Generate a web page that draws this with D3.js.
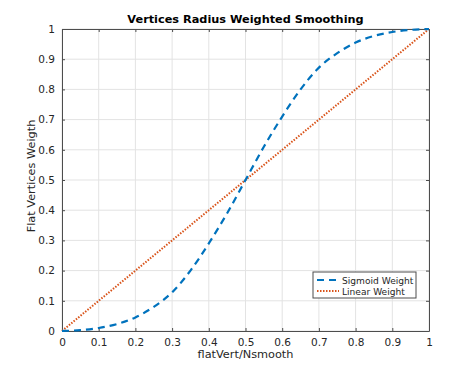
<!DOCTYPE html>
<html>
<head>
<meta charset="utf-8">
<script src="https://cdn.jsdelivr.net/npm/d3@7"></script>
<style>
  body { margin: 0; background: #fff; }
  svg text { font-family: "DejaVu Sans", sans-serif; fill: #262626; }
</style>
</head>
<body>
<div id="chart"></div>
<script>
// Values
var xValues = [0, 0.05, 0.1, 0.15, 0.2, 0.25, 0.3, 0.35, 0.4, 0.45, 0.5,
               0.55, 0.6, 0.65, 0.7, 0.75, 0.8, 0.85, 0.9, 0.95, 1];
var sigmoidWeight = [0, 0.003, 0.01, 0.023, 0.045, 0.08, 0.128, 0.2, 0.29, 0.39, 0.5,
                     0.61, 0.71, 0.8, 0.872, 0.92, 0.955, 0.977, 0.99, 0.997, 1];
var linearX = [0, 1];
var linearWeight = [0, 1];
var tickValues = [0, 0.1, 0.2, 0.3, 0.4, 0.5, 0.6, 0.7, 0.8, 0.9, 1];
var seriesNames = ["Sigmoid Weight", "Linear Weight"];

var svgWidth = 474;
var svgHeight = 372;
var margin = { top: 29, right: 45, bottom: 41, left: 62 };
var width = svgWidth - margin.left - margin.right;
var height = svgHeight - margin.top - margin.bottom;

var svg = d3.select("#chart")
    .append("svg")
    .attr("width", svgWidth)
    .attr("height", svgHeight);

var plot = svg.append("g")
    .attr("transform", `translate(${margin.left}, ${margin.top})`);

var x = d3.scaleLinear().domain([0, 1]).range([0, width]);
var y = d3.scaleLinear().domain([0, 1]).range([height, 0]);

// grid
plot.append("g")
    .selectAll("line.gx")
    .data(tickValues)
    .enter().append("line")
    .attr("x1", d => x(d)).attr("x2", d => x(d))
    .attr("y1", 0).attr("y2", height)
    .attr("stroke", "#e3e3e3").attr("stroke-width", 1);
plot.append("g")
    .selectAll("line.gy")
    .data(tickValues)
    .enter().append("line")
    .attr("y1", d => y(d)).attr("y2", d => y(d))
    .attr("x1", 0).attr("x2", width)
    .attr("stroke", "#e3e3e3").attr("stroke-width", 1);

// axes (ticks inward, box on)
var fmt = d3.format("~g");
function styleAxis(g) {
    g.select(".domain").attr("stroke", "#4d4d4d");
    g.selectAll(".tick line").attr("stroke", "#4d4d4d");
    g.selectAll(".tick text").attr("font-size", "10.5px").attr("fill", "#262626");
}
plot.append("g")
    .attr("transform", `translate(0, ${height})`)
    .call(d3.axisBottom(x).tickValues(tickValues).tickFormat(fmt).tickSizeInner(-3).tickSizeOuter(0).tickPadding(8))
    .call(styleAxis);
plot.append("g")
    .call(d3.axisLeft(y).tickValues(tickValues).tickFormat(fmt).tickSizeInner(-3).tickSizeOuter(0).tickPadding(7))
    .call(styleAxis);
plot.append("g")
    .call(d3.axisTop(x).tickValues(tickValues).tickFormat("").tickSizeInner(-3).tickSizeOuter(0))
    .call(styleAxis);
plot.append("g")
    .attr("transform", `translate(${width}, 0)`)
    .call(d3.axisRight(y).tickValues(tickValues).tickFormat("").tickSizeInner(-3).tickSizeOuter(0))
    .call(styleAxis);

// lines
var sigData = xValues.map((v, i) => [v, sigmoidWeight[i]]);
var linData = linearX.map((v, i) => [v, linearWeight[i]]);
var line = d3.line().x(d => x(d[0])).y(d => y(d[1])).curve(d3.curveMonotoneX);

plot.append("path")
    .datum(linData)
    .attr("d", line)
    .attr("fill", "none")
    .attr("stroke", "#D95319")
    .attr("stroke-width", 2)
    .attr("stroke-dasharray", "1.5,1.5");

plot.append("path")
    .datum(sigData)
    .attr("d", line)
    .attr("fill", "none")
    .attr("stroke", "#0072BD")
    .attr("stroke-width", 2.2)
    .attr("stroke-dasharray", "7,5");

// labels
svg.append("text")
    .attr("x", margin.left + width / 2)
    .attr("y", 23)
    .attr("text-anchor", "middle")
    .attr("font-size", "11.3px")
    .attr("font-weight", "bold")
    .style("fill", "#000")
    .text("Vertices Radius Weighted Smoothing");

svg.append("text")
    .attr("x", margin.left + width / 2)
    .attr("y", 358)
    .attr("text-anchor", "middle")
    .attr("font-size", "11.3px")
    .text("flatVert/Nsmooth");

svg.append("text")
    .attr("transform", `translate(35, ${margin.top + height / 2 - 4}) rotate(-90)`)
    .attr("text-anchor", "middle")
    .attr("font-size", "11.3px")
    .text("Flat Vertices Weigth");

// legend
var legend = svg.append("g").attr("transform", "translate(313, 272)");
legend.append("rect")
    .attr("width", 103).attr("height", 26)
    .attr("fill", "#fff").attr("stroke", "#4d4d4d").attr("stroke-width", 1);
var legendStyles = [
    { color: "#0072BD", dash: "7,5", w: 2.2 },
    { color: "#D95319", dash: "1.5,1.5", w: 2 }
];
seriesNames.forEach(function(name, i) {
    var yy = 8 + i * 11;
    legend.append("line")
        .attr("x1", 4).attr("x2", 26)
        .attr("y1", yy).attr("y2", yy)
        .attr("stroke", legendStyles[i].color)
        .attr("stroke-width", legendStyles[i].w)
        .attr("stroke-dasharray", legendStyles[i].dash);
    legend.append("text")
        .attr("x", 29).attr("y", yy + 3.5)
        .attr("font-size", "9.1px")
        .text(name);
});
</script>
</body>
</html>
